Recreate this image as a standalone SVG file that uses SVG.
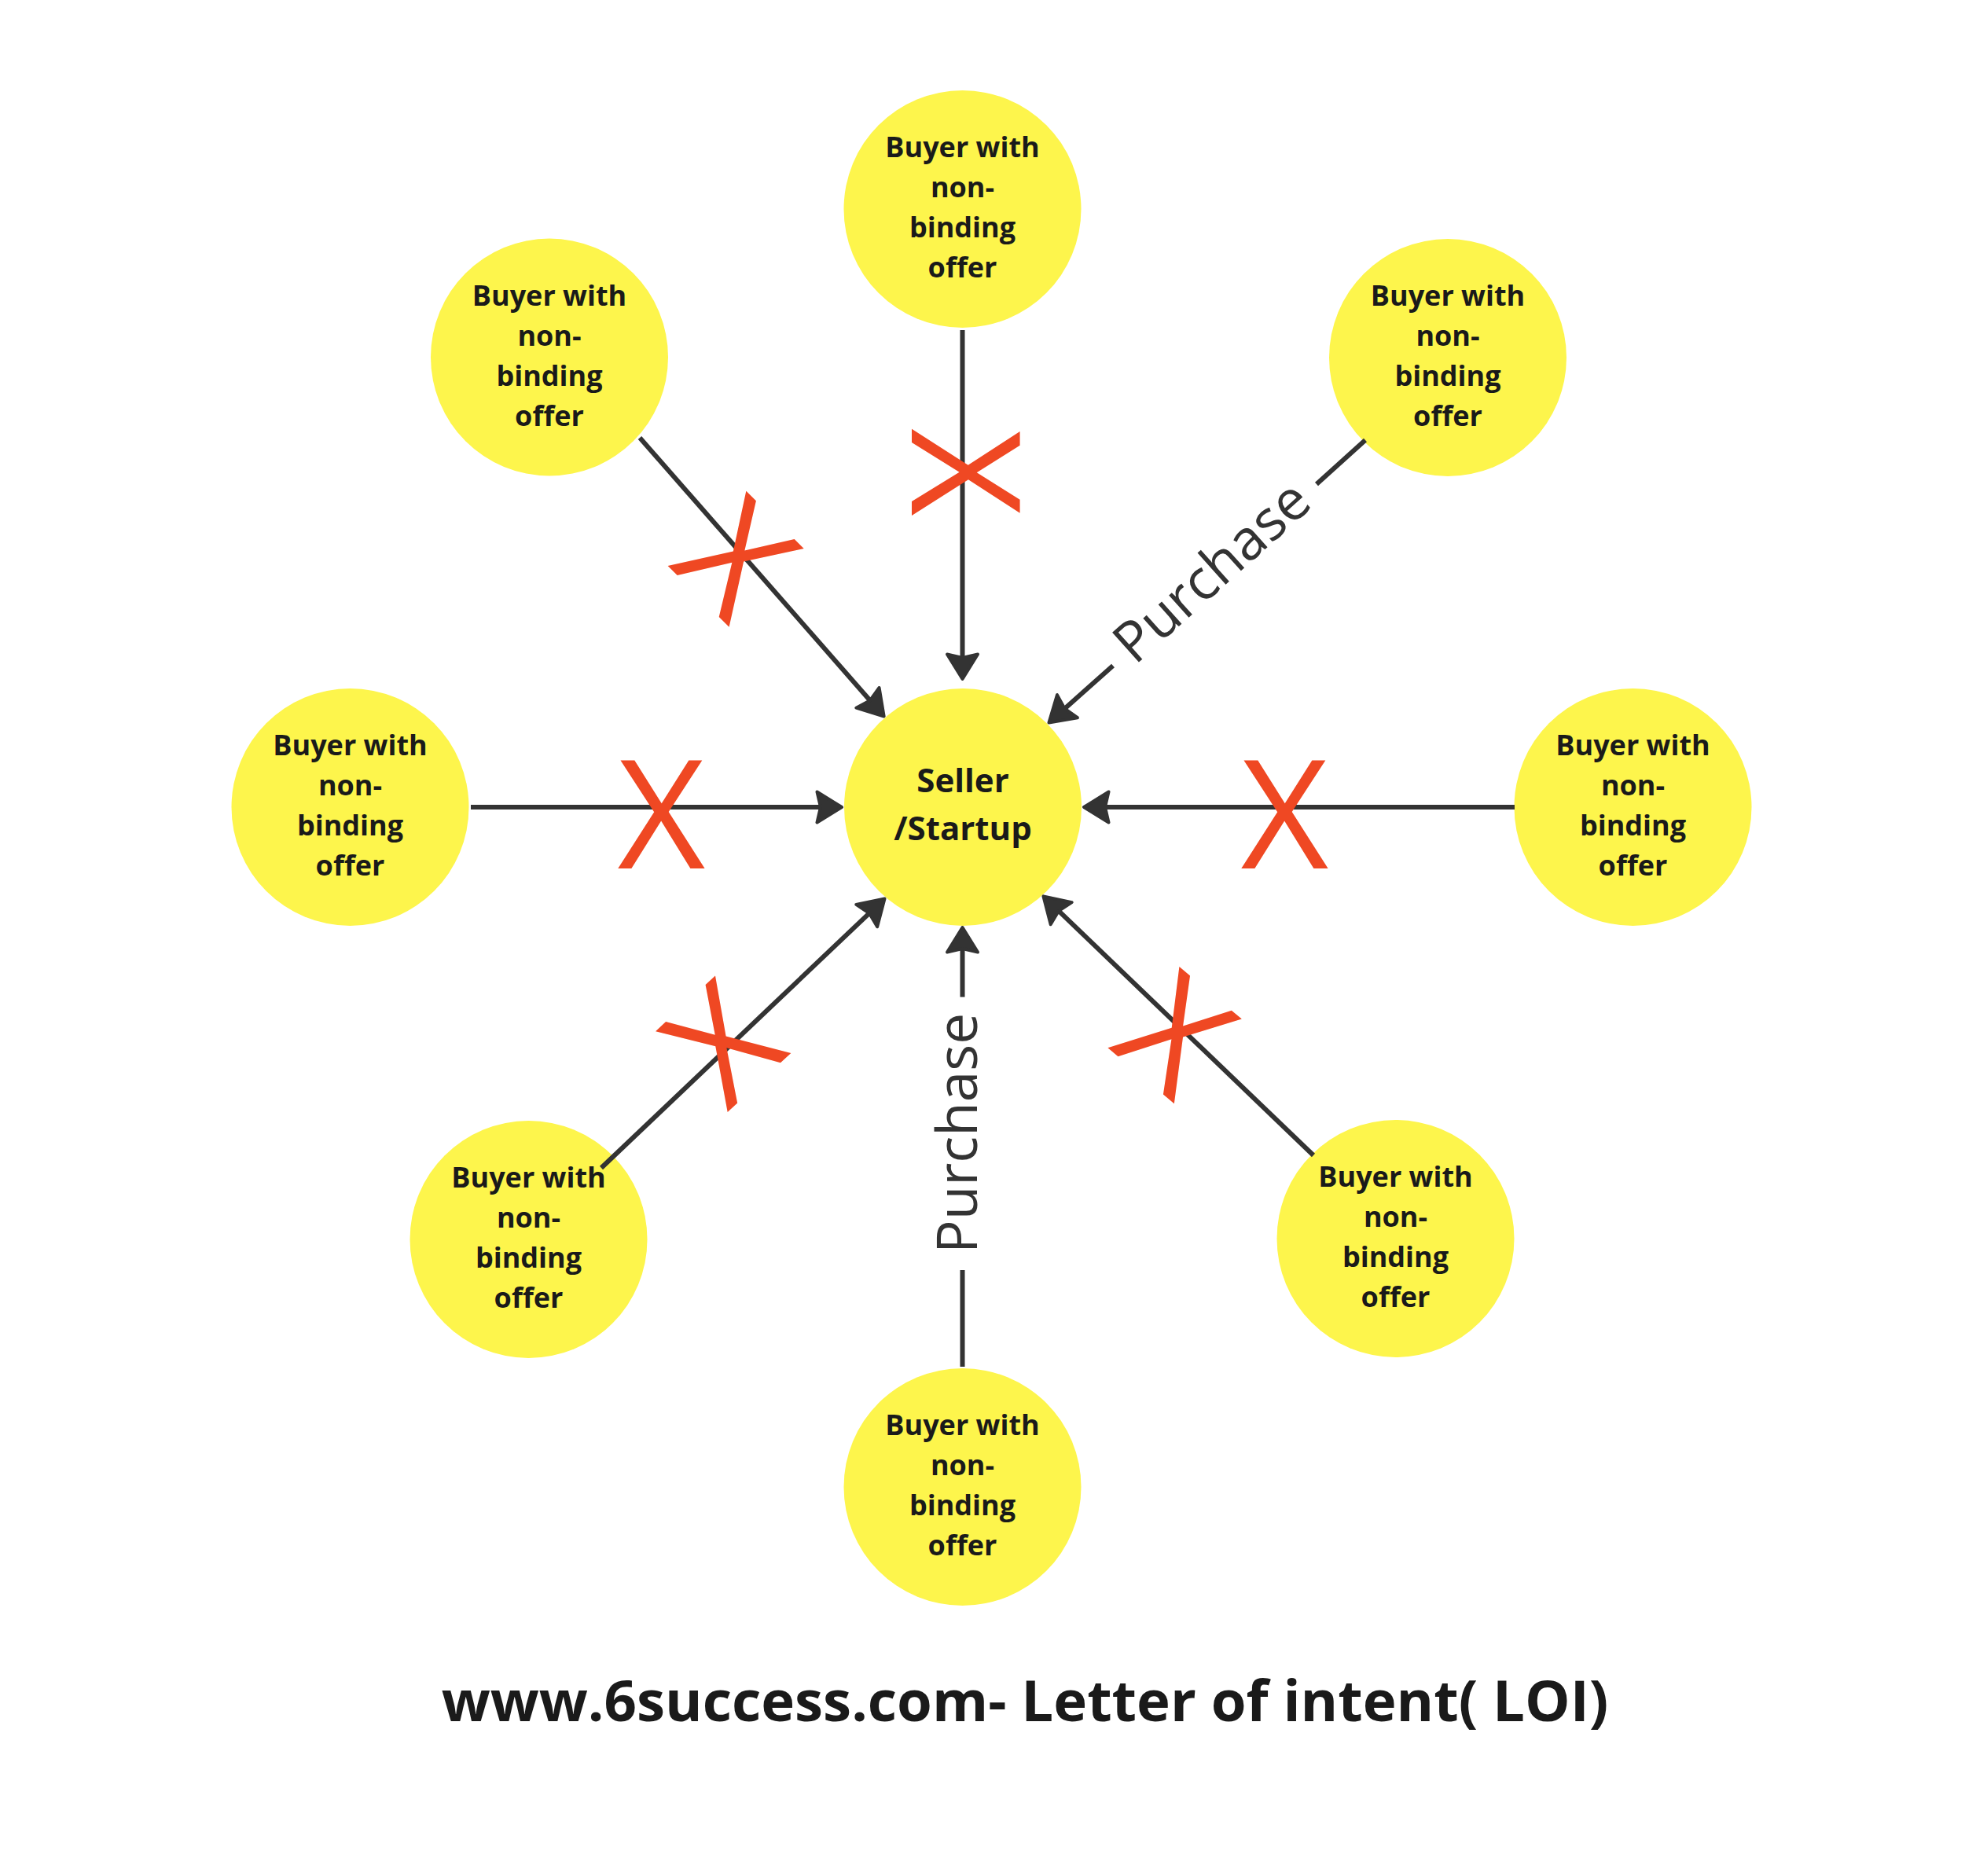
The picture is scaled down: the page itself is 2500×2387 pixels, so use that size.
<svg xmlns="http://www.w3.org/2000/svg" width="2500" height="2387" viewBox="0 0 2500 2387">
<style>
.node{fill:#FDF54C}
.lbl{font-family:"Open Sans","Liberation Sans",sans-serif;font-weight:700;font-size:36px;fill:#1a1a1a;text-anchor:middle}
.clbl{font-family:"Open Sans","Liberation Sans",sans-serif;font-weight:700;font-size:42px;fill:#1a1a1a;text-anchor:middle}
.edge{stroke:#333333;stroke-width:6;fill:none}
.arr{stroke:#333333;stroke-width:6;fill:none;marker-end:url(#ah)}
.pl{font-family:"Open Sans","Liberation Sans",sans-serif;font-weight:400;font-size:71px;fill:#333333;text-anchor:middle}
.x{font-family:"Open Sans","Liberation Sans",sans-serif;font-weight:400;font-size:193px;fill:#EF4823;text-anchor:middle}
.title{font-family:"Open Sans","Liberation Sans",sans-serif;font-weight:700;font-size:72.5px;fill:#1a1a1a;text-anchor:middle}
</style>
<defs>
<marker id="ah" markerUnits="userSpaceOnUse" markerWidth="60" markerHeight="60" refX="0" refY="0" orient="auto" overflow="visible">
<path d="M25,0 L-6.5,-19.5 L-2,0 L-6.5,19.5 Z" fill="#333333" stroke="#333333" stroke-width="4" stroke-linejoin="round"/>
</marker>
</defs>
<rect width="2500" height="2387" fill="#ffffff"/>

<g id="node-center">
<circle class="node" cx="1225" cy="1027" r="151"/>
<text class="clbl" x="1225" y="1008">Seller</text>
<text class="clbl" x="1225" y="1069">/Startup</text>
</g>
<g id="node-top">
<circle class="node" cx="1224.5" cy="266" r="151"/>
<text class="lbl" x="1224.5" y="200">Buyer with</text>
<text class="lbl" x="1224.5" y="251">non-</text>
<text class="lbl" x="1224.5" y="302">binding</text>
<text class="lbl" x="1224.5" y="353">offer</text>
</g>
<g id="node-top-left">
<circle class="node" cx="699" cy="454.5" r="151"/>
<text class="lbl" x="699" y="388.5">Buyer with</text>
<text class="lbl" x="699" y="439.5">non-</text>
<text class="lbl" x="699" y="490.5">binding</text>
<text class="lbl" x="699" y="541.5">offer</text>
</g>
<g id="node-top-right">
<circle class="node" cx="1842" cy="455" r="151"/>
<text class="lbl" x="1842" y="389">Buyer with</text>
<text class="lbl" x="1842" y="440">non-</text>
<text class="lbl" x="1842" y="491">binding</text>
<text class="lbl" x="1842" y="542">offer</text>
</g>
<g id="node-left">
<circle class="node" cx="445.5" cy="1027" r="151"/>
<text class="lbl" x="445.5" y="961">Buyer with</text>
<text class="lbl" x="445.5" y="1012">non-</text>
<text class="lbl" x="445.5" y="1063">binding</text>
<text class="lbl" x="445.5" y="1114">offer</text>
</g>
<g id="node-right">
<circle class="node" cx="2077.5" cy="1027" r="151"/>
<text class="lbl" x="2077.5" y="961">Buyer with</text>
<text class="lbl" x="2077.5" y="1012">non-</text>
<text class="lbl" x="2077.5" y="1063">binding</text>
<text class="lbl" x="2077.5" y="1114">offer</text>
</g>
<g id="node-bottom-left">
<circle class="node" cx="672.5" cy="1577" r="151"/>
<text class="lbl" x="672.5" y="1511">Buyer with</text>
<text class="lbl" x="672.5" y="1562">non-</text>
<text class="lbl" x="672.5" y="1613">binding</text>
<text class="lbl" x="672.5" y="1664">offer</text>
</g>
<g id="node-bottom-right">
<circle class="node" cx="1775.5" cy="1576" r="151"/>
<text class="lbl" x="1775.5" y="1510">Buyer with</text>
<text class="lbl" x="1775.5" y="1561">non-</text>
<text class="lbl" x="1775.5" y="1612">binding</text>
<text class="lbl" x="1775.5" y="1663">offer</text>
</g>
<g id="node-bottom">
<circle class="node" cx="1224.5" cy="1892" r="151"/>
<text class="lbl" x="1224.5" y="1826">Buyer with</text>
<text class="lbl" x="1224.5" y="1877">non-</text>
<text class="lbl" x="1224.5" y="1928">binding</text>
<text class="lbl" x="1224.5" y="1979">offer</text>
</g>

<g id="connectors">
<path class="arr" d="M1224.5,420 L1224.5,839"/>
<path class="arr" d="M814,557 L1108.2,892.7"/>
<path class="edge" d="M1737,560 L1675,616"/>
<path class="arr" d="M1416,847 L1353.1,903"/>
<path class="arr" d="M599,1027 L1046,1027"/>
<path class="arr" d="M1927,1027 L1404,1027"/>
<path class="arr" d="M765,1486 L1107.4,1160.6"/>
<path class="edge" d="M1224.5,1739 L1224.5,1616"/>
<path class="arr" d="M1224.5,1268.6 L1224.5,1205"/>
<path class="arr" d="M1671,1470 L1345.5,1157.7"/>
<text class="pl" transform="translate(1557.8,745.3) rotate(-41.8)">Purchase</text>
<text class="pl" transform="translate(1243,1442) rotate(-90)">Purchase</text>
</g>

<g id="x-marks">
<text class="x" transform="translate(1229,601) rotate(90)" y="69">X</text>
<text class="x" transform="translate(937.5,710) rotate(45)" y="69">X</text>
<text class="x" transform="translate(841.5,1036)" y="69">X</text>
<text class="x" transform="translate(1634.5,1035.5)" y="69">X</text>
<text class="x" transform="translate(919,1327) rotate(-43)" y="69">X</text>
<text class="x" transform="translate(1496,1316) rotate(40)" y="69">X</text>
</g>

<text class="title" x="1304" y="2190">www.6success.com- Letter of intent( LOI)</text>
</svg>
